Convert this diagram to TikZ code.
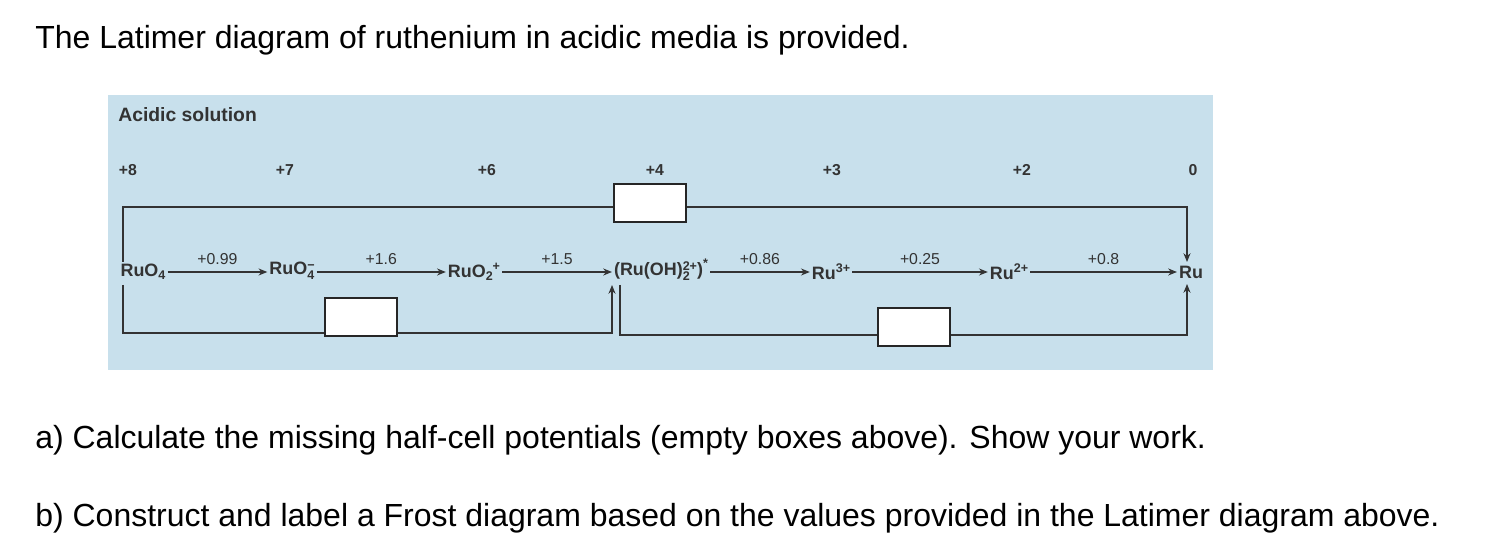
\documentclass[tikz,border=0pt]{standalone}
\usepackage{fontspec}
\setmainfont{Liberation Sans}
\usetikzlibrary{arrows.meta}
\definecolor{panel}{HTML}{C8E0EC}
\newcommand{\mysb}[1]{\raisebox{-0.35ex}{\scalebox{0.7}{#1}}}
\newcommand{\mysp}[1]{\raisebox{0.75ex}{\scalebox{0.7}{#1}}}
\newcommand{\mysps}[2]{\raisebox{-0.1ex}{\scalebox{0.7}{\begin{tabular}{@{}l@{}}#1\\[-3pt]#2\end{tabular}}}}
\begin{document}
\begin{tikzpicture}[x=0.02cm,y=-0.02cm,
  q/.style={anchor=west,inner sep=0,font=\fontsize{18.2}{20}\selectfont},
  sp/.style={inner sep=1pt,font=\fontsize{10.2}{11}\selectfont\bfseries\color{black!80}},
  ox/.style={inner sep=0,font=\fontsize{9}{11}\selectfont\bfseries\color{black!80}},
  pot/.style={inner sep=0,font=\fontsize{9}{11}\selectfont\color{black!80}},
  ln/.style={draw=black!80,line width=0.6pt},
  ar/.style={ln,-{Stealth[length=5pt,width=4pt]}},
  bx/.style={draw=black!85,fill=white,line width=0.7pt,minimum width=72*0.02cm,minimum height=38*0.02cm,inner sep=0}]
\useasboundingbox (0,0) rectangle (1502,560);
\fill[panel] (108,95) rectangle (1213,370);
\node[q] (title) at (35,40) {The Latimer diagram of ruthenium in acidic media is provided.};
\node[anchor=west,inner sep=0,font=\fontsize{11}{12}\selectfont\bfseries\color{black!80}] (acid) at (118,115) {Acidic solution};
\node[ox] (o8) at (128,170) {+8};
\node[ox] (o7) at (285,170) {+7};
\node[ox] (o6) at (487,170) {+6};
\node[ox] (o4) at (655,170) {+4};
\node[ox] (o3) at (832,170) {+3};
\node[ox] (o2) at (1022,170) {+2};
\node[ox] (o0) at (1193,170) {0};
\node[sp] (s8) at (143,272) {RuO\mysb{4}};
\node[sp] (s7) at (292,272) {RuO\mysps{−}{4}};
\node[sp] (s6) at (474,272) {RuO\mysb{2}\mysp{+}};
\node[sp] (s4) at (661,272) {(Ru(OH)\mysps{2+}{2})\mysp{*}};
\node[sp] (s3) at (831,272) {Ru\mysp{3+}};
\node[sp] (s2) at (1009,272) {Ru\mysp{2+}};
\node[sp] (s0) at (1191,272) {Ru};
\draw[ar] (s8.east) -- node[pot,above=4pt] {+0.99} (s7.west);
\draw[ar] (s7.east) -- node[pot,above=4pt] {+1.6} (s6.west);
\draw[ar] (s6.east) -- node[pot,above=4pt] {+1.5} (s4.west);
\draw[ar] (s4.east) -- node[pot,above=4pt] {+0.86} (s3.west);
\draw[ar] (s3.east) -- node[pot,above=4pt] {+0.25} (s2.west);
\draw[ar] (s2.east) -- node[pot,above=4pt] {+0.8} (s0.west);
\coordinate (a1) at (123,262);
\coordinate (a2) at (1187,262);
\draw[ar] (a1) |- (600,207) -| (a2);
\node[bx] (b1) at (650,203) {};
\coordinate (c1) at (123,285);
\coordinate (c2) at (612,285);
\draw[ar] (c1) |- (400,333) -| (c2);
\node[bx] (b2) at (361,317) {};
\coordinate (d1) at (620,285);
\coordinate (d2) at (1187,284);
\draw[ar] (d1) |- (900,335) -| (d2);
\node[bx] (b3) at (914,327) {};
\node[q] (qa) at (35,440) {a) Calculate the missing half-cell potentials (empty boxes above). Show your work.};
\node[q] (qb) at (35,518) {b) Construct and label a Frost diagram based on the values provided in the Latimer diagram above.};
\end{tikzpicture}
\end{document}
